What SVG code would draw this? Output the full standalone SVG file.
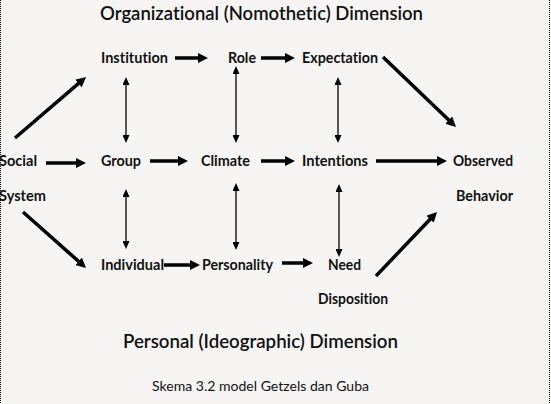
<svg xmlns="http://www.w3.org/2000/svg" width="551" height="404" viewBox="0 0 551 404">
<style>
text{font-variant-ligatures:none}
.n{font-family:Lato,"Open Sans","Liberation Sans",sans-serif;font-weight:bold;font-size:14.5px;fill:#111}
.t{font-family:Lato,"Open Sans","Liberation Sans",sans-serif;font-weight:600;font-size:20px;fill:#111}
.c{font-family:Lato,"Open Sans","Liberation Sans",sans-serif;font-size:13.5px;fill:#111}
.thick{stroke:#000;stroke-width:3.5;fill:none;marker-end:url(#h)}
.thin{stroke:#000;stroke-width:1.3;fill:none;marker-start:url(#s);marker-end:url(#s)}
</style>
<defs>
<marker id="h" viewBox="0 0 10 10" refX="1" refY="5" markerWidth="10" markerHeight="10" markerUnits="userSpaceOnUse" orient="auto"><path d="M0,0 L10,5 L0,10 z" fill="#000"/></marker>
<marker id="s" viewBox="0 0 8 7" refX="1" refY="3.5" markerWidth="8" markerHeight="7" markerUnits="userSpaceOnUse" orient="auto-start-reverse"><path d="M0,0 L8,3.5 L0,7 z" fill="#000"/></marker>
</defs>
<rect x="0" y="0" width="551" height="404" fill="#f6f5f3"/>
<line x1="0.5" y1="0" x2="0.5" y2="404" stroke="#000" stroke-dasharray="1,1"/>
<line x1="549.5" y1="0" x2="549.5" y2="404" stroke="#000" stroke-dasharray="1,1"/>
<text class="t" x="100" y="20" textLength="323" lengthAdjust="spacingAndGlyphs">Organizational (Nomothetic) Dimension</text>
<text class="t" x="123" y="348" textLength="275" lengthAdjust="spacingAndGlyphs">Personal (Ideographic) Dimension</text>
<text class="c" x="152" y="391" textLength="217" lengthAdjust="spacingAndGlyphs">Skema 3.2 model Getzels dan Guba</text>
<g id="social-system"><text class="n" x="-1" y="166" textLength="38" lengthAdjust="spacingAndGlyphs">Social</text><text class="n" x="-1" y="201" textLength="47" lengthAdjust="spacingAndGlyphs">System</text></g>
<g id="institution"><text class="n" x="101" y="63" textLength="67" lengthAdjust="spacingAndGlyphs">Institution</text></g>
<g id="role"><text class="n" x="228" y="63" textLength="28" lengthAdjust="spacingAndGlyphs">Role</text></g>
<g id="expectation"><text class="n" x="302" y="63" textLength="76" lengthAdjust="spacingAndGlyphs">Expectation</text></g>
<g id="group"><text class="n" x="101" y="166" textLength="40" lengthAdjust="spacingAndGlyphs">Group</text></g>
<g id="climate"><text class="n" x="201" y="166" textLength="49" lengthAdjust="spacingAndGlyphs">Climate</text></g>
<g id="intentions"><text class="n" x="302" y="166" textLength="66" lengthAdjust="spacingAndGlyphs">Intentions</text></g>
<g id="observed-behavior"><text class="n" x="453" y="166" textLength="60" lengthAdjust="spacingAndGlyphs">Observed</text><text class="n" x="456" y="201" textLength="57" lengthAdjust="spacingAndGlyphs">Behavior</text></g>
<g id="individual"><text class="n" x="101" y="270" textLength="63" lengthAdjust="spacingAndGlyphs">Individual</text></g>
<g id="personality"><text class="n" x="202" y="270" textLength="71" lengthAdjust="spacingAndGlyphs">Personality</text></g>
<g id="need-disposition"><text class="n" x="328" y="270" textLength="33" lengthAdjust="spacingAndGlyphs">Need</text><text class="n" x="318" y="304" textLength="70" lengthAdjust="spacingAndGlyphs">Disposition</text></g>
<g id="connectors">
<line class="thick" x1="175" y1="58" x2="199" y2="58"/>
<line class="thick" x1="261" y1="58" x2="286" y2="58"/>
<line class="thick" x1="46" y1="163" x2="77" y2="163"/>
<line class="thick" x1="150" y1="161" x2="179" y2="161"/>
<line class="thick" x1="261" y1="161" x2="286" y2="161"/>
<line class="thick" x1="376" y1="161" x2="438" y2="161"/>
<line class="thick" x1="164" y1="265" x2="191" y2="265"/>
<line class="thick" x1="282" y1="263" x2="304" y2="263"/>
<line class="thick" x1="15" y1="138" x2="79.2" y2="82.9"/>
<line class="thick" x1="383" y1="57" x2="449.5" y2="120.8"/>
<line class="thick" x1="23" y1="212" x2="79.3" y2="262"/>
<line class="thick" x1="376" y1="276" x2="430.8" y2="218.5"/>
<line class="thin" x1="126" y1="84" x2="126" y2="136"/>
<line class="thin" x1="236" y1="73" x2="236" y2="136"/>
<line class="thin" x1="338" y1="84" x2="338" y2="136"/>
<line class="thin" x1="126" y1="196" x2="126" y2="242"/>
<line class="thin" x1="236" y1="190" x2="236" y2="243"/>
<line class="thin" x1="339" y1="191" x2="339" y2="250"/>
</g>
</svg>
